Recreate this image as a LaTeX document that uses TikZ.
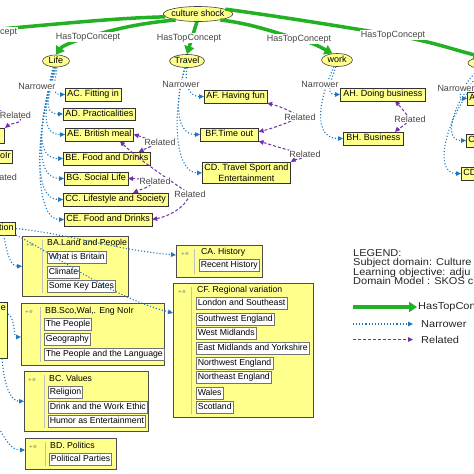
\documentclass[tikz,border=0pt]{standalone}
\usepackage{fontspec}
\setmainfont{Liberation Sans}
\newfontfamily\symfont{DejaVu Sans}
\newfontfamily\legfont[FakeStretch=1.1]{Liberation Sans}
\usetikzlibrary{arrows.meta,shapes.geometric,calc}
\definecolor{boxyel}{RGB}{255,255,140}
\definecolor{htcgreen}{RGB}{34,177,34}
\definecolor{narblue}{RGB}{30,120,190}
\definecolor{relpurple}{RGB}{112,48,170}
\definecolor{lblgray}{RGB}{70,70,70}
\begin{document}
\begin{tikzpicture}[x=1pt,y=-1pt,
  every node/.style={font=\fontsize{9}{10.5}\selectfont},
  conc/.style={ellipse, draw=black!75, fill=boxyel, line width=0.6pt, inner sep=0pt, minimum height=13pt, text height=6pt, text depth=1.8pt},
  cboxbase/.style={rectangle, draw=black!80, fill=boxyel, line width=0.6pt, inner xsep=2pt, inner ysep=2pt, anchor=north west},
  cbox/.style={cboxbase, text height=6.5pt, text depth=2pt},
  lbox/.style={rectangle, draw=black!70, fill=boxyel, line width=0.6pt, anchor=north west, inner sep=0pt},
  item/.style={rectangle, draw=black!55, fill=white, line width=0.5pt, inner xsep=1.5pt, inner ysep=2pt, text height=6.3pt, text depth=1.9pt, anchor=north west, font=\fontsize{8.7}{10}\selectfont},
  ltitle/.style={anchor=west, inner sep=0pt, font=\fontsize{8.7}{10}\selectfont},
  icon/.style={font=\symfont\fontsize{4.5}{5}\selectfont, text=black!60, inner sep=0pt},
  sepline/.style={draw=black!25, line width=0.5pt},
  elab/.style={fill=white, text=lblgray, inner sep=0.6pt},
  legend/.style={font=\legfont\fontsize{10}{9}\selectfont, inner sep=0pt, text=black!85},
  hastop/.style={draw=htcgreen, line width=3.5pt, -{Triangle[length=8pt,width=10pt]}},
  narrower/.style={draw=narblue, line width=1.1pt, dotted, -{Triangle[length=5pt,width=4.5pt]}},
  related/.style={draw=relpurple, line width=1pt, dash pattern=on 3pt off 2pt, -{Triangle[length=5pt,width=4.5pt]}},
]
\useasboundingbox (0,0) rectangle (474,474);
\clip (0,0) rectangle (474,474);
\fill[white] (0,0) rectangle (474,474);

% ---- concepts (ellipses)
\node[conc, minimum width=68pt, minimum height=15pt, inner xsep=-2pt] (cs) at (198,14) {culture shock};
\node[conc, minimum width=27pt, minimum height=12pt] (life) at (56,61) {Life};
\node[conc, minimum width=35pt] (travel) at (187,61) {Travel};
\node[conc, minimum width=31pt] (work) at (337,60) {work};
\node[conc, minimum width=54pt, minimum height=14pt] (rc) at (495,63) {};

% ---- concept boxes
\node[cbox] (ac) at (65,88) {AC. Fitting in};
\node[cbox] (ad) at (63,107.5) {AD. Practicalities};
\node[cbox] (ae) at (65,128) {AE. British meal};
\node[cbox] (be) at (63,152) {BE. Food and Drinks};
\node[cbox] (bg) at (64,172) {BG. Social Life};
\node[cbox] (cc) at (63,193) {CC. Lifestyle and Society};
\node[cbox] (ce) at (64,213) {CE. Food and Drinks};
\node[cbox] (af) at (204,90) {AF. Having fun};
\node[cbox, minimum width=58pt] (bf) at (200,128) {BF.Time out};
\node[cboxbase, align=center] (cd) at (202,162) {CD. Travel Sport and\\Entertainment};
\node[cbox, minimum width=85pt] (ah) at (340,88) {AH. Doing business};
\node[cbox, minimum width=60pt] (bh) at (343,132) {BH. Business};
\node[cbox, text width=36pt, align=left] (rA) at (467,92) {A};
\node[cbox, text width=36pt, align=left] (rC) at (466,134) {C};
\node[cbox, text width=36pt, align=left] (rCD) at (461,167) {CD};

% ---- partly hidden boxes at the left edge
\node[cbox, anchor=north east, minimum width=40pt, minimum height=15pt] (lbox1) at (5,128) {};
\node[cbox, anchor=north east] (olr) at (13,150) {Eng NoIr};
\node[cbox, anchor=north east] (ation) at (16,222) {ation};
\node[cbox, anchor=north east, minimum width=60pt, minimum height=56pt] (lbox2) at (8,302) {};
\node[anchor=north east, inner sep=1pt] (lbox2t) at ($(lbox2.north east)+(-1,2)$) {e};

% ---- list boxes
% BA
\node[lbox, minimum width=106pt, minimum height=60pt] (ba) at (22,236) {};
\node[icon] (baI) at ($(ba.north west)+(8,9)$) {+≡};
\draw[sepline] ($(ba.north west)+(20,4)$) -- ($(ba.south west)+(20,-4)$);
\node[ltitle] (baT) at ($(ba.north west)+(25,7)$) {BA.Land and People};
\node[item] (ba1) at (47,251) {What is Britain};
\node[item] (ba2) at (47,266) {Climate};
\node[item] (ba3) at (47,280) {Some Key Dates};
% BB
\node[lbox, minimum width=143pt, minimum height=62pt] (bb) at (21,303) {};
\node[icon] (bbI) at ($(bb.north west)+(8,9)$) {+≡};
\draw[sepline] ($(bb.north west)+(19,4)$) -- ($(bb.south west)+(19,-4)$);
\node[ltitle] (bbT) at ($(bb.north west)+(24,8)$) {BB.Sco,Wal,. Eng NoIr};
\node[item] (bb1) at (44,318) {The People};
\node[item] (bb2) at (44,333) {Geography};
\node[item] (bb3) at (44,348) {The People and the Language};
% BC
\node[lbox, minimum width=124pt, minimum height=60pt] (bc) at (24,371) {};
\node[icon] (bcI) at ($(bc.north west)+(8,9)$) {+≡};
\draw[sepline] ($(bc.north west)+(20,4)$) -- ($(bc.south west)+(20,-4)$);
\node[ltitle] (bcT) at ($(bc.north west)+(25,7)$) {BC. Values};
\node[item] (bc1) at (48,386) {Religion};
\node[item] (bc2) at (48,401) {Drink and the Work Ethic};
\node[item] (bc3) at (48,415) {Humor as Entertainment};
% BD
\node[lbox, minimum width=91pt, minimum height=31pt] (bd) at (25,438) {};
\node[icon] (bdI) at ($(bd.north west)+(8,9)$) {+≡};
\draw[sepline] ($(bd.north west)+(20,4)$) -- ($(bd.south west)+(20,-4)$);
\node[ltitle] (bdT) at ($(bd.north west)+(25,7)$) {BD. Politics};
\node[item] (bd1) at (49,453) {Political Parties};
% CA
\node[lbox, minimum width=86pt, minimum height=32pt] (ca) at (176,245) {};
\node[icon] (caI) at ($(ca.north west)+(9,9)$) {+≡};
\draw[sepline] ($(ca.north west)+(18,4)$) -- ($(ca.south west)+(18,-4)$);
\node[ltitle] (caT) at ($(ca.north west)+(25,7.5)$) {CA. History};
\node[item] (ca1) at (199,259) {Recent History};
% CF
\node[lbox, minimum width=140pt, minimum height=134pt] (cf) at (173,283) {};
\node[icon] (cfI) at ($(cf.north west)+(9,9)$) {+≡};
\draw[sepline] ($(cf.north west)+(18,4)$) -- ($(cf.south west)+(18,-4)$);
\node[ltitle] (cfT) at ($(cf.north west)+(24,7)$) {CF. Regional variation};
\node[item] (cf1) at (196,297) {London and Southeast};
\node[item] (cf2) at (196,312.5) {Southwest England};
\node[item] (cf3) at (196,327) {West Midlands};
\node[item] (cf4) at (196,342) {East Midlands and Yorkshire};
\node[item] (cf5) at (196,357) {Northwest England};
\node[item] (cf6) at (196,371) {Northeast England};
\node[item] (cf7) at (196,386.5) {Wales};
\node[item] (cf8) at (196,401) {Scotland};

% ---- label positions
\coordinate (l0) at (-15,32);
\coordinate (l1) at (88,37);
\coordinate (l2) at (189,38);
\coordinate (l3) at (299,39);
\coordinate (l4) at (393,35);
\coordinate (n1) at (37,86);
\coordinate (n2) at (181,84);
\coordinate (n3) at (320,84);
\coordinate (n4) at (456,88);
\coordinate (r1) at (160,142);
\coordinate (r2) at (190,194);
\coordinate (r3) at (155,181);
\coordinate (r4) at (300,117);
\coordinate (r5) at (305,154);
\coordinate (r6) at (410,119);
\coordinate (rL1) at (15.5,115);
\coordinate (rL2) at (1.5,177);
\coordinate (gL) at (-25,31);
\coordinate (offL1) at (-20,105);
\coordinate (offL2) at (-8,193);
\coordinate (bdsrc) at (-5,420);

% ---- HasTopConcept
\draw[hastop] (cs.185) .. controls (110,18) and (40,26) .. (gL);
\draw[hastop] (cs.195) .. controls (130,24) and (102,33) .. (l1) .. controls (74,41) and (62,46) .. (life.north);
\draw[hastop] (cs.262) -- (travel.north);
\draw[hastop] (cs.345) .. controls (255,24) and (278,34) .. (l3) .. controls (316,44) and (322,48) .. (work.125);
\draw[hastop] (cs.10) .. controls (290,18) and (350,28) .. (l4) .. controls (430,41) and (455,50) .. (rc.155);

% ---- Narrower
\draw[narrower] (life.280) .. controls +(-2,14) and +(-14,0) .. (ac.west);
\draw[narrower] (life.270) .. controls +(-6,25) and +(-22,0) .. (ad.west);
\draw[narrower] (life.265) .. controls +(-10,35) and +(-26,0) .. (ae.west);
\draw[narrower] (life.260) .. controls +(-14,50) and +(-30,0) .. (be.west);
\draw[narrower] (life.255) .. controls +(-16,60) and +(-30,0) .. (bg.west);
\draw[narrower] (life.250) .. controls +(-18,70) and +(-30,0) .. (cc.west);
\draw[narrower] (life.245) .. controls +(-20,80) and +(-28,0) .. (ce.west);
\draw[narrower] (travel.270) .. controls +(-3,18) and +(-14,0) .. (af.west);
\draw[narrower] (travel.255) .. controls +(-12,40) and +(-22,0) .. (bf.west);
\draw[narrower] (travel.250) .. controls +(-14,55) and +(-25,0) .. (cd.west);
\draw[narrower] (work.260) .. controls +(-6,18) and +(-14,0) .. (ah.west);
\draw[narrower] (work.245) .. controls +(-18,40) and +(-28,0) .. (bh.west);
\draw[narrower] (rc.200) .. controls +(-12,12) and +(-12,0) .. (rA.west);
\draw[narrower] (rc.210) .. controls +(-30,30) and +(-25,0) .. (rC.west);
\draw[narrower] (rc.220) .. controls +(-40,40) and +(-30,0) .. (rCD.west);
\draw[narrower] (ation.south) .. controls +(2,15) and +(-12,0) .. (ba.west);
\draw[narrower] (ation.east) .. controls +(50,5) and +(-60,-5) .. ($(ca.north west)+(0,10)$);
\draw[narrower] (ation.south east) .. controls +(40,20) and +(-60,-15) .. ($(cf.north west)+(0,30)$);
\draw[narrower] ($(lbox2.north east)+(0,12)$) .. controls +(8,5) and +(-8,0) .. ($(bb.north west)+(0,34)$);
\draw[narrower] ($(lbox2.south east)+(-6,0)$) .. controls +(2,25) and +(-14,0) .. (bc.west);
\draw[narrower] (bdsrc) .. controls +(10,20) and +(-14,0) .. ($(bd.north west)+(0,12)$);

% ---- Related
\draw[related] (r1) .. controls +(-12,-2) and +(8,2) .. (ae.east);
\draw[related] (r1) .. controls +(-12,6) and +(6,-3) .. ($(be.north east)+(-12,0)$);
\draw[related] (r2) .. controls +(-30,-20) and +(15,15) .. ($(ae.south east)!0.4!(ae.south)$);
\draw[related] (r2) .. controls +(-5,15) and +(15,-3) .. (ce.east);
\draw[related] (r3) .. controls +(-10,-2) and +(6,0) .. (bg.east);
\draw[related] (r3) .. controls +(-8,8) and +(8,-4) .. ($(cc.north west)+(70,0)$);
\draw[related] (r4) .. controls +(-12,-8) and +(8,2) .. (af.south east);
\draw[related] (r4) .. controls +(-12,6) and +(10,-2) .. ($(bf.east)+(0,-3)$);
\draw[related] (r5) .. controls +(-15,-3) and +(10,3) .. (bf.south east);
\draw[related] (r5) .. controls +(-3,7) and +(5,-3) .. (cd.north east);
\draw[related] (r6) .. controls +(-6,-8) and +(4,4) .. ($(ah.south west)+(55,0)$);
\draw[related] (r6) .. controls +(-6,8) and +(4,-4) .. ($(bh.north west)+(52,0)$);
\draw[related, -] (rL1) -- (offL1);
\draw[related] (rL1) .. controls +(14,8) and +(6,-5) .. (lbox1.north east);
\draw[related] (rL2) -- (offL2);

% ---- edge labels
\node[elab] (l0t) at (l0) {HasTopConcept};
\node[elab] (l1t) at (l1) {HasTopConcept};
\node[elab] (l2t) at (l2) {HasTopConcept};
\node[elab] (l3t) at (l3) {HasTopConcept};
\node[elab] (l4t) at (l4) {HasTopConcept};
\node[elab] (n1t) at (n1) {Narrower};
\node[elab] (n2t) at (n2) {Narrower};
\node[elab] (n3t) at (n3) {Narrower};
\node[elab] (n4t) at (n4) {Narrower};
\node[elab] (r1t) at (r1) {Related};
\node[elab] (r2t) at (r2) {Related};
\node[elab] (r3t) at (r3) {Related};
\node[elab] (r4t) at (r4) {Related};
\node[elab] (r5t) at (r5) {Related};
\node[elab] (r6t) at (r6) {Related};
\node[elab] (rL1t) at (rL1) {Related};
\node[elab] (rL2t) at (rL2) {Related};

% ---- legend
\node[legend, anchor=base west] (lg0) at (353,256) {LEGEND:};
\node[legend, anchor=base west] (lg1) at (353,265.5) {Subject domain: Culture};
\node[legend, anchor=base west] (lg2) at (353,275) {Learning objective: adju};
\node[legend, anchor=base west] (lg3) at (353,284.5) {Domain Model : SKOS c};
\coordinate (lgA) at (353,307);
\coordinate (lgB) at (353,324);
\coordinate (lgC) at (353,339.5);
\node[legend, anchor=west] (lgAt) at (418,307) {HasTopConcept};
\node[legend, anchor=west] (lgBt) at (421,324) {Narrower};
\node[legend, anchor=west] (lgCt) at (421,339.5) {Related};
\draw[hastop] (lgA) -- ($(lgAt.west)+(-1,0)$);
\draw[narrower] (lgB) -- ($(lgBt.west)+(-8,0)$);
\draw[related] (lgC) -- ($(lgCt.west)+(-8,0)$);
\end{tikzpicture}
\end{document}
